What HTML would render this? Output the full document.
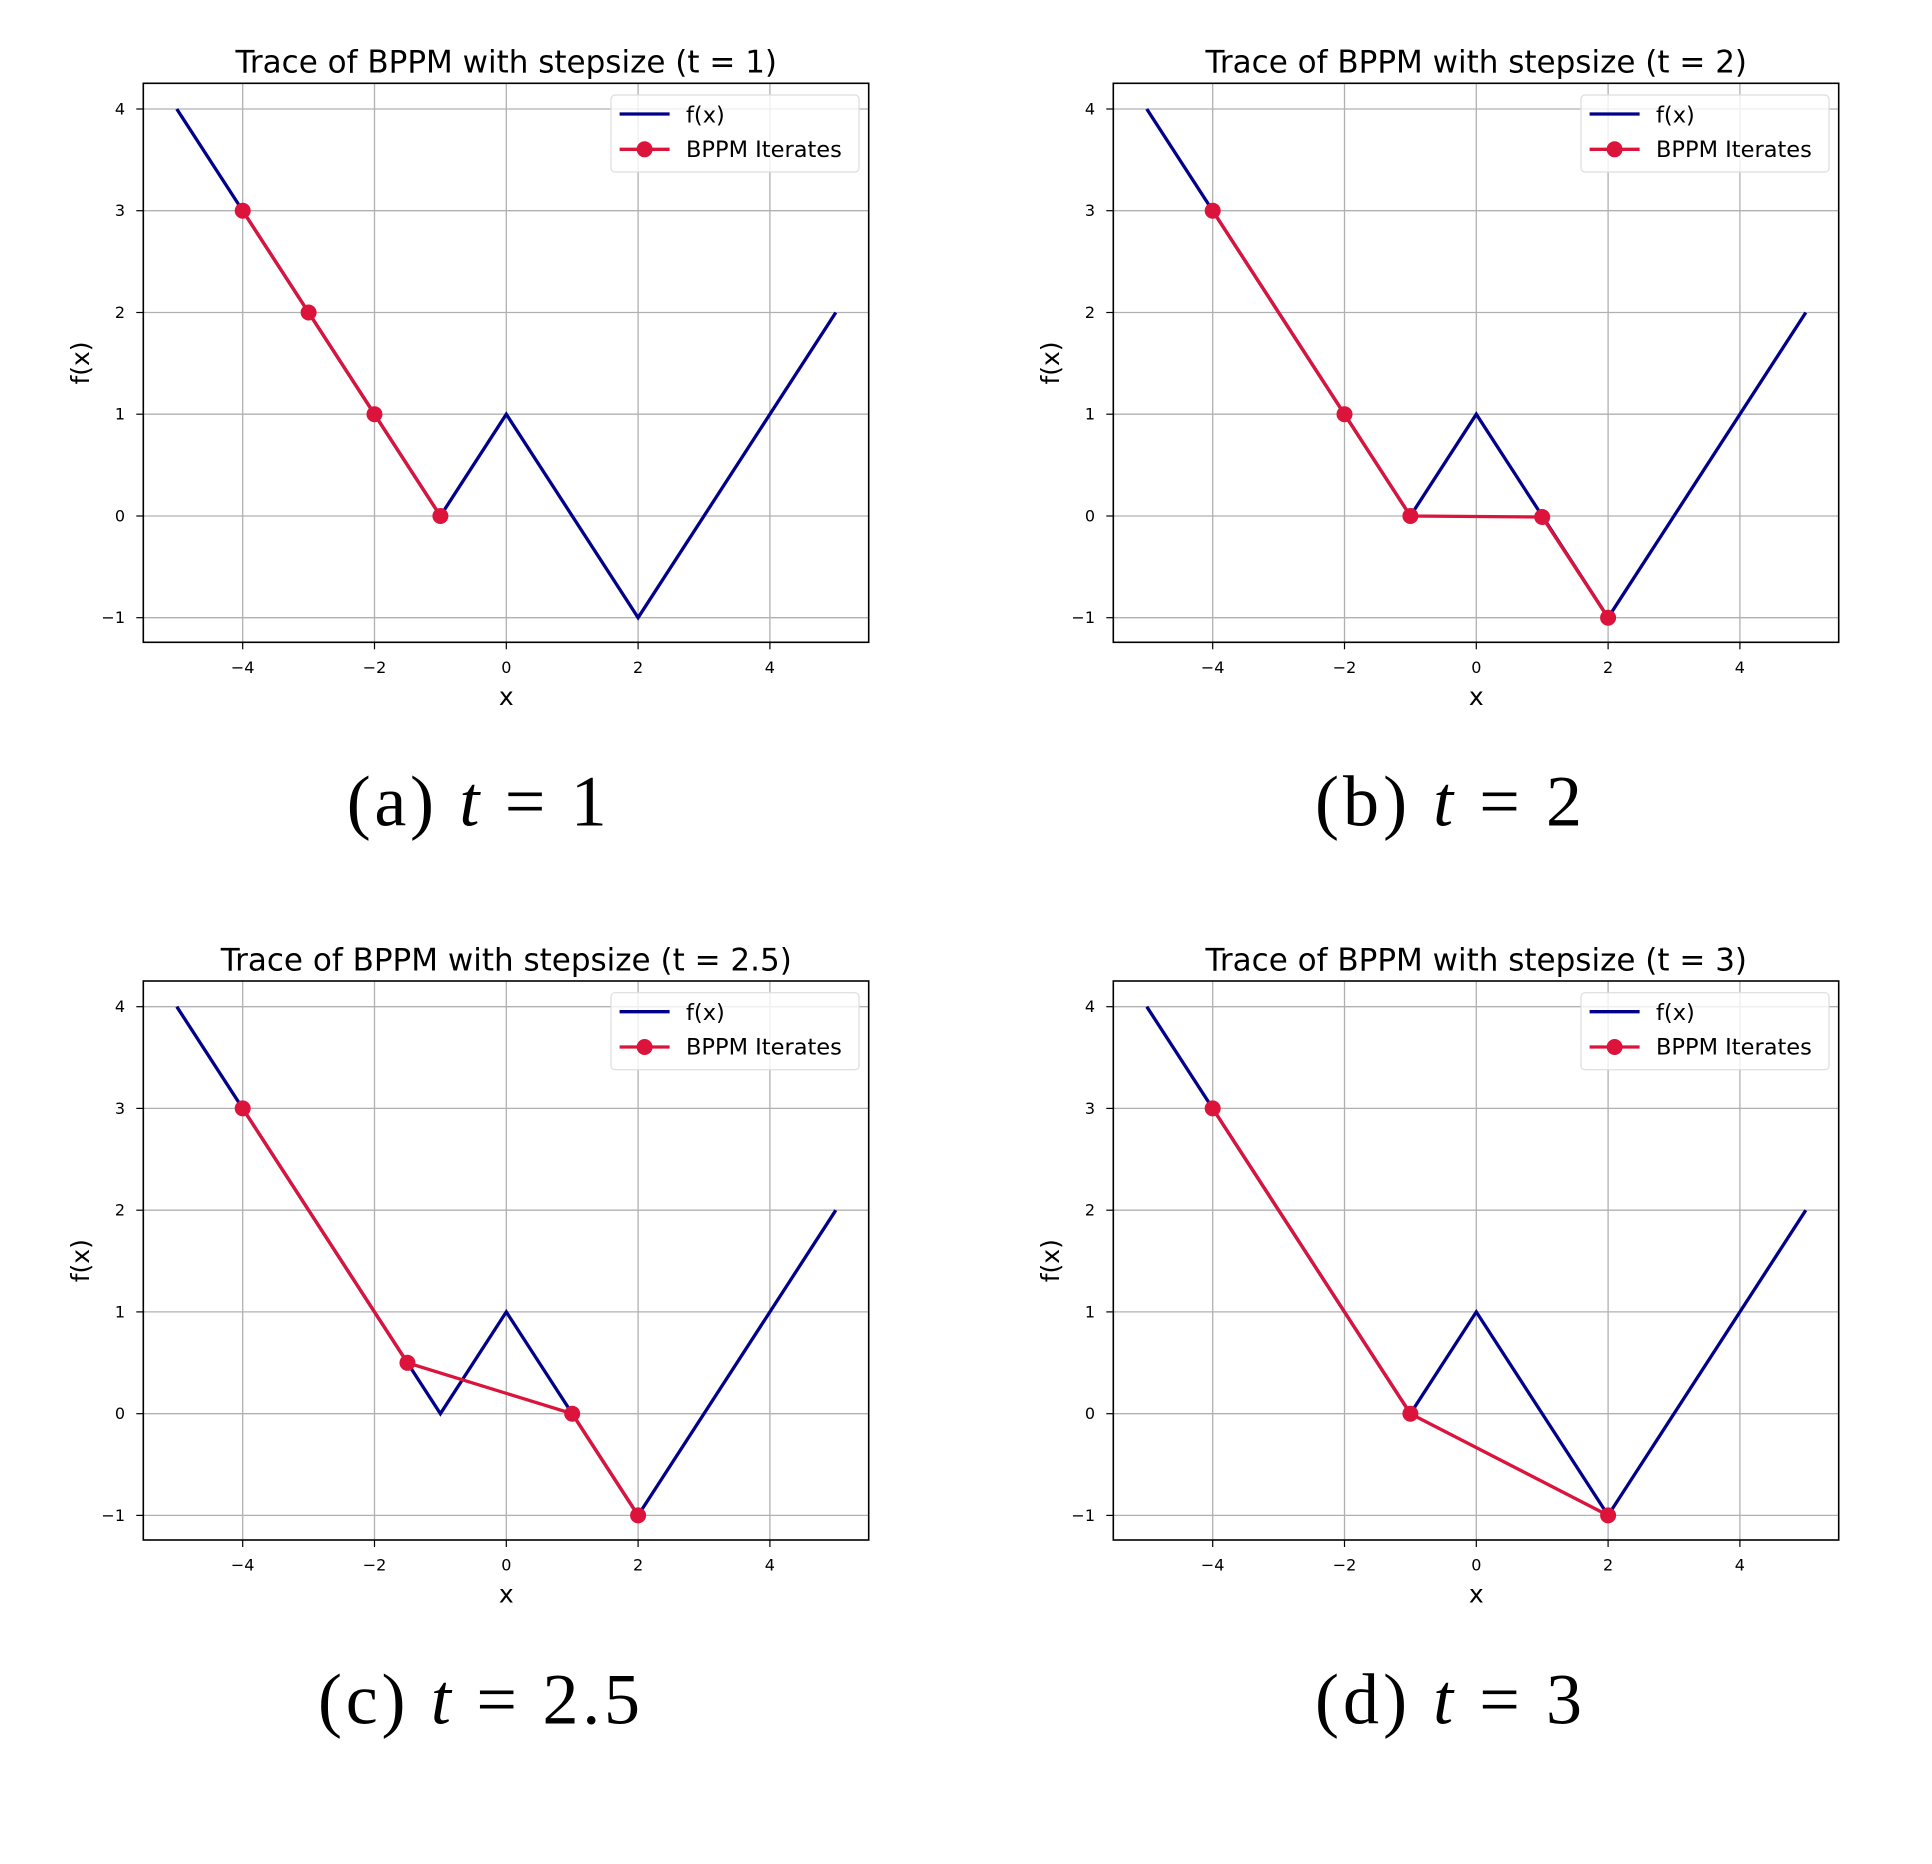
<!DOCTYPE html>
<html><head><meta charset="utf-8"><style>
html,body{margin:0;padding:0;background:#fff;}
svg{display:block;}
.t{font-family:"DejaVu Sans","Liberation Sans",sans-serif;fill:#000;}
.cap{font-family:"Liberation Serif","DejaVu Serif",serif;fill:#000;}
</style></head><body>
<svg width="1932" height="1864" viewBox="0 0 1932 1864" xmlns="http://www.w3.org/2000/svg">
<defs>
<g id="frame">
  <rect x="143.3" y="83.3" width="725.4" height="559" fill="#fff"/>
  <g stroke="#b0b0b0" stroke-width="1.3">
    <line x1="242.7" y1="83.3" x2="242.7" y2="642.3"/><line x1="374.5" y1="83.3" x2="374.5" y2="642.3"/>
    <line x1="506.3" y1="83.3" x2="506.3" y2="642.3"/><line x1="638.1" y1="83.3" x2="638.1" y2="642.3"/>
    <line x1="769.9" y1="83.3" x2="769.9" y2="642.3"/>
    <line x1="143.3" y1="109" x2="868.7" y2="109"/><line x1="143.3" y1="210.7" x2="868.7" y2="210.7"/>
    <line x1="143.3" y1="312.5" x2="868.7" y2="312.5"/><line x1="143.3" y1="414.2" x2="868.7" y2="414.2"/>
    <line x1="143.3" y1="516" x2="868.7" y2="516"/><line x1="143.3" y1="617.7" x2="868.7" y2="617.7"/>
  </g>
  <g stroke="#000" stroke-width="1.2">
    <line x1="242.7" y1="642.3" x2="242.7" y2="649.3"/><line x1="374.5" y1="642.3" x2="374.5" y2="649.3"/>
    <line x1="506.3" y1="642.3" x2="506.3" y2="649.3"/><line x1="638.1" y1="642.3" x2="638.1" y2="649.3"/>
    <line x1="769.9" y1="642.3" x2="769.9" y2="649.3"/>
    <line x1="136.3" y1="109" x2="143.3" y2="109"/><line x1="136.3" y1="210.7" x2="143.3" y2="210.7"/>
    <line x1="136.3" y1="312.5" x2="143.3" y2="312.5"/><line x1="136.3" y1="414.2" x2="143.3" y2="414.2"/>
    <line x1="136.3" y1="516" x2="143.3" y2="516"/><line x1="136.3" y1="617.7" x2="143.3" y2="617.7"/>
  </g>
</g>
<polyline id="fx" points="176.8,109 440.4,516 506.3,414.2 638.1,617.7 835.8,312.5" fill="none" stroke="#00008b" stroke-width="3.3"/>
<g id="axes">
  <rect x="143.3" y="83.3" width="725.4" height="559" fill="none" stroke="#000" stroke-width="1.6"/>
  <rect x="611" y="95" width="248" height="77" rx="4" fill="#fff" fill-opacity="0.8" stroke="#ddd" stroke-width="1.2"/>
  <line x1="619.6" y1="114" x2="669.6" y2="114" stroke="#00008b" stroke-width="3.3"/>
  <line x1="619.6" y1="149.3" x2="669.6" y2="149.3" stroke="#dc143c" stroke-width="3.3"/>
  <circle cx="644.6" cy="149.3" r="8" fill="#dc143c"/>
</g>
<g id="labels">
  <g class="t" font-size="16" text-anchor="middle"><text x="242.7" y="673">−4</text><text x="374.5" y="673">−2</text><text x="506.3" y="673">0</text><text x="638.1" y="673">2</text><text x="769.9" y="673">4</text></g>
  <g class="t" font-size="16" text-anchor="end"><text x="125" y="114.5">4</text><text x="125" y="216.2">3</text><text x="125" y="318">2</text><text x="125" y="419.7">1</text><text x="125" y="521.5">0</text><text x="125" y="623.2">−1</text></g>
  <text class="t" x="506.3" y="705" font-size="25" text-anchor="middle">x</text>
  <text class="t" transform="translate(89,363) rotate(-90)" font-size="25" text-anchor="middle">f(x)</text>
  <text class="t" x="686" y="122.5" font-size="22.5">f(x)</text>
  <text class="t" x="686" y="157" font-size="22.5">BPPM Iterates</text>
</g>
</defs>

<g>
  <use href="#frame"/>
  <use href="#fx"/>
  <polyline points="242.7,210.7 308.6,312.5 374.5,414.2 440.4,516" fill="none" stroke="#dc143c" stroke-width="3.3"/>
  <g fill="#dc143c"><circle cx="242.7" cy="210.7" r="8"/><circle cx="308.6" cy="312.5" r="8"/><circle cx="374.5" cy="414.2" r="8"/><circle cx="440.4" cy="516" r="8"/></g>
  <use href="#axes"/>
  <use href="#labels"/>
  <text class="t" x="506.3" y="72.7" font-size="31" text-anchor="middle">Trace of BPPM with stepsize (t = 1)</text>
  <text class="cap" x="346.7" y="825.7" font-size="72" textLength="260" lengthAdjust="spacing">(a) <tspan font-style="italic">t</tspan> = 1</text>
</g>

<g transform="translate(970,0)">
  <use href="#frame"/>
  <use href="#fx"/>
  <polyline points="242.7,210.7 374.5,414.2 440.4,516 572.2,517 638.1,617.7" fill="none" stroke="#dc143c" stroke-width="3.3"/>
  <g fill="#dc143c"><circle cx="242.7" cy="210.7" r="8"/><circle cx="374.5" cy="414.2" r="8"/><circle cx="440.4" cy="516" r="8"/><circle cx="572.2" cy="517" r="8"/><circle cx="638.1" cy="617.7" r="8"/></g>
  <use href="#axes"/>
  <use href="#labels"/>
  <text class="t" x="506.3" y="72.7" font-size="31" text-anchor="middle">Trace of BPPM with stepsize (t = 2)</text>
  <text class="cap" x="345" y="825.7" font-size="72" textLength="267" lengthAdjust="spacing">(b) <tspan font-style="italic">t</tspan> = 2</text>
</g>

<g transform="translate(0,897.7)">
  <use href="#frame"/>
  <use href="#fx"/>
  <polyline points="242.7,210.7 407.45,465.1 572.2,516 638.1,617.7" fill="none" stroke="#dc143c" stroke-width="3.3"/>
  <g fill="#dc143c"><circle cx="242.7" cy="210.7" r="8"/><circle cx="407.45" cy="465.1" r="8"/><circle cx="572.2" cy="516" r="8"/><circle cx="638.1" cy="617.7" r="8"/></g>
  <use href="#axes"/>
  <use href="#labels"/>
  <text class="t" x="506.3" y="72.7" font-size="31" text-anchor="middle">Trace of BPPM with stepsize (t = 2.5)</text>
  <text class="cap" x="318" y="825.7" font-size="72" textLength="322" lengthAdjust="spacing">(c) <tspan font-style="italic">t</tspan> = 2.5</text>
</g>

<g transform="translate(970,897.7)">
  <use href="#frame"/>
  <use href="#fx"/>
  <polyline points="242.7,210.7 440.4,516 638.1,617.7" fill="none" stroke="#dc143c" stroke-width="3.3"/>
  <g fill="#dc143c"><circle cx="242.7" cy="210.7" r="8"/><circle cx="440.4" cy="516" r="8"/><circle cx="638.1" cy="617.7" r="8"/></g>
  <use href="#axes"/>
  <use href="#labels"/>
  <text class="t" x="506.3" y="72.7" font-size="31" text-anchor="middle">Trace of BPPM with stepsize (t = 3)</text>
  <text class="cap" x="345" y="825.7" font-size="72" textLength="267" lengthAdjust="spacing">(d) <tspan font-style="italic">t</tspan> = 3</text>
</g>
</svg>
</body></html>
